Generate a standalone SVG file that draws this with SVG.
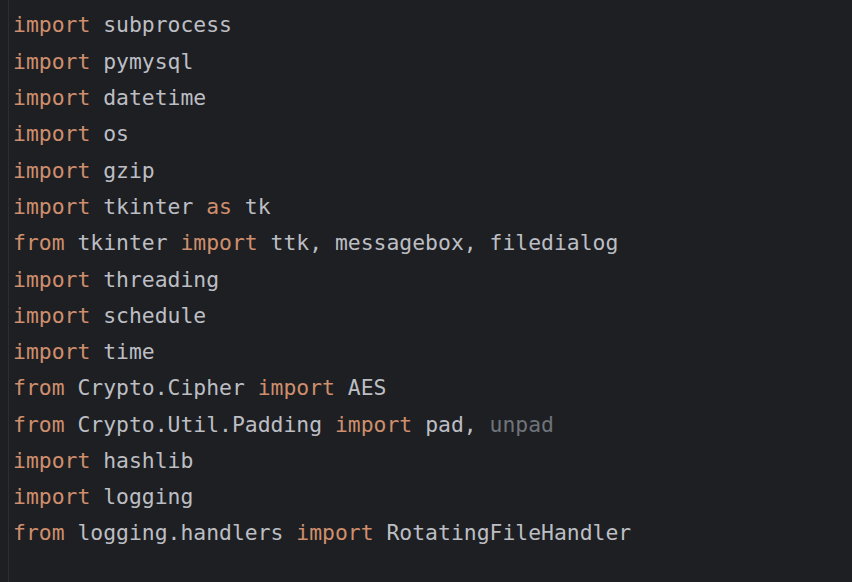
<svg xmlns="http://www.w3.org/2000/svg" width="852" height="582" viewBox="0 0 852 582">
<style>
text{font-family:"DejaVu Sans Mono","Liberation Mono",monospace;font-size:21.4px;fill:#bcbec4;white-space:pre}
.k{fill:#cf8e6d}.g{fill:#6f737a}
</style>
<rect width="852" height="582" fill="#1e1f22"/>
<line x1="8.5" y1="0" x2="8.5" y2="582" stroke="#2b2d30" stroke-width="1"/>
<g id="code" xml:space="preserve">
<text x="13" y="32"><tspan class="k">import</tspan> subprocess</text>
<text x="13" y="69"><tspan class="k">import</tspan> pymysql</text>
<text x="13" y="105"><tspan class="k">import</tspan> datetime</text>
<text x="13" y="141"><tspan class="k">import</tspan> os</text>
<text x="13" y="178"><tspan class="k">import</tspan> gzip</text>
<text x="13" y="214"><tspan class="k">import</tspan> tkinter <tspan class="k">as</tspan> tk</text>
<text x="13" y="250"><tspan class="k">from</tspan> tkinter <tspan class="k">import</tspan> ttk, messagebox, filedialog</text>
<text x="13" y="287"><tspan class="k">import</tspan> threading</text>
<text x="13" y="323"><tspan class="k">import</tspan> schedule</text>
<text x="13" y="359"><tspan class="k">import</tspan> time</text>
<text x="13" y="395"><tspan class="k">from</tspan> Crypto.Cipher <tspan class="k">import</tspan> AES</text>
<text x="13" y="432"><tspan class="k">from</tspan> Crypto.Util.Padding <tspan class="k">import</tspan> pad, <tspan class="g">unpad</tspan></text>
<text x="13" y="468"><tspan class="k">import</tspan> hashlib</text>
<text x="13" y="504"><tspan class="k">import</tspan> logging</text>
<text x="13" y="540"><tspan class="k">from</tspan> logging.handlers <tspan class="k">import</tspan> RotatingFileHandler</text>
</g>
</svg>
